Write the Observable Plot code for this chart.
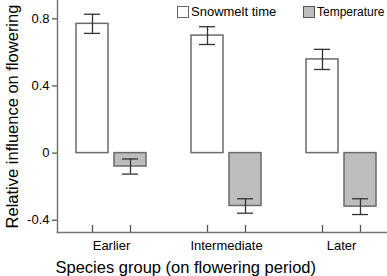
<!DOCTYPE html>
<html><head><meta charset="utf-8">
<script src="https://cdn.jsdelivr.net/npm/d3@7"></script>
<script src="https://cdn.jsdelivr.net/npm/@observablehq/plot@0.6"></script>
<style>
body{margin:0;background:#fff;font-family:"Liberation Sans",Arial,sans-serif;}
#wrap{position:relative;width:387px;height:276px;overflow:hidden;}
.legend{position:absolute;top:5px;left:0;white-space:nowrap;color:#000;}
.item{position:absolute;top:0;display:flex;align-items:center;height:13px;}
.sw{display:inline-block;width:10px;height:10px;border:1px solid #666;margin-right:2px;box-sizing:content-box;}
</style></head><body><div id="wrap"></div>
<script>
const groups = ["Earlier", "Intermediate", "Later"];
const series = ["Snowmelt time", "Temperature"];
const snowmelt = [0.77, 0.70, 0.558];
const snowmeltErr = [0.057, 0.053, 0.06];
const temperature = [-0.08, -0.315, -0.319];
const temperatureErr = [0.045, 0.043, 0.047];
const seriesFill = ["#ffffff", "#bdbdbd"];
const yTicks = [-0.4, 0, 0.4, 0.8];
const yTickLabels = ["-0.4", "0", "0.4", "0.8"];
const xTitle = "Species group (on flowering period)";
const yTitle = "Relative influence on flowering";

const rows = [];
groups.forEach((g, i) => {
  rows.push({group: g, series: series[0], value: snowmelt[i], lo: snowmelt[i] - snowmeltErr[i], hi: snowmelt[i] + snowmeltErr[i]});
  rows.push({group: g, series: series[1], value: temperature[i], lo: temperature[i] - temperatureErr[i], hi: temperature[i] + temperatureErr[i]});
});

const chart = Plot.plot({
  width: 387, height: 276,
  marginLeft: 57, marginRight: -11, marginTop: 0, marginBottom: 44,
  style: {fontFamily: '"Liberation Sans", Arial, sans-serif', fontSize: "13px", color: "#000", background: "#fff", overflow: "hidden"},
  fx: {domain: groups, paddingInner: 0.0603, paddingOuter: 0, align: 0},
  x: {domain: series, paddingInner: 0.17, paddingOuter: 0.5, align: 0.5},
  y: {domain: [-0.473, 0.909]},
  color: {domain: series, range: seriesFill},
  marks: [
    Plot.barY(rows, {fx: "group", x: "series", y: "value", fill: "series", stroke: "#6a6a6a", strokeWidth: 1.5}),
    Plot.ruleX(rows, {fx: "group", x: "series", y1: "lo", y2: "hi", stroke: "#333", strokeWidth: 1.3}),
    Plot.tickY(rows, {fx: "group", x: "series", y: "hi", stroke: "#333", strokeWidth: 1.3, insetLeft: 8, insetRight: 8}),
    Plot.tickY(rows, {fx: "group", x: "series", y: "lo", stroke: "#333", strokeWidth: 1.3, insetLeft: 8, insetRight: 8}),
    Plot.axisX({anchor: "top", frameAnchor: "bottom", tickSize: 8, tickPadding: 0, tickFormat: () => "", label: null, stroke: "#555", strokeWidth: 1.3}),
    Plot.axisFx({anchor: "bottom", tickSize: 0, tickPadding: 8, fontSize: 13, label: null}),
    Plot.axisY({anchor: "left", ticks: yTicks, tickFormat: d => yTickLabels[yTicks.indexOf(d)],
      tickSize: 5, tickPadding: 3, stroke: "#555", strokeWidth: 1.3, label: null}),
    Plot.frame({anchor: "left", facet: "super", stroke: "#777", strokeWidth: 1.5}),
    Plot.frame({anchor: "bottom", facet: "super", stroke: "#777", strokeWidth: 1.5}),
    Plot.text([xTitle], {facet: "super", frameAnchor: "bottom-left", text: d => d, textAnchor: "start", lineAnchor: "middle", dx: -2, dy: 35, fontSize: 16.5, fill: "#000"}),
    Plot.text([yTitle], {facet: "super", frameAnchor: "left", text: d => d, textAnchor: "middle", lineAnchor: "middle", rotate: -90, dx: -45, fontSize: 16.5, fill: "#000"})
  ]
});
document.getElementById("wrap").appendChild(chart);

const legend = document.createElement("div");
legend.className = "legend";
const legendLeft = [177, 303];
const legendSize = [13, 12];
series.forEach((s, i) => {
  const item = document.createElement("div");
  item.className = "item";
  item.style.left = legendLeft[i] + "px";
  const sw = document.createElement("span");
  sw.className = "sw";
  sw.style.background = seriesFill[i];
  if (i === 1) sw.style.borderColor = "#555";
  const t = document.createElement("span");
  t.textContent = s;
  t.style.fontSize = legendSize[i] + "px";
  item.appendChild(sw); item.appendChild(t);
  legend.appendChild(item);
});
document.getElementById("wrap").appendChild(legend);
</script></body></html>
